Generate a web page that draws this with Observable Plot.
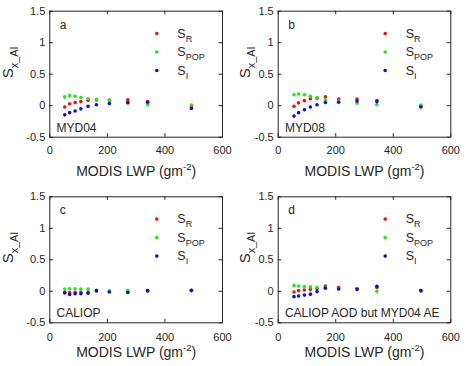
<!DOCTYPE html>
<html><head><meta charset="utf-8">
<script src="https://cdn.jsdelivr.net/npm/d3@7"></script>
<script src="https://cdn.jsdelivr.net/npm/@observablehq/plot@0.6"></script>
<style>
body{margin:0;background:#fff;}
#fig{position:relative;width:474px;height:366px;background:#fff;}
#fig svg{position:absolute;overflow:visible;}
</style></head><body><div id="fig"></div>
<script>
// ---- data ----
const lwpAC = [52, 69, 88, 108, 133, 162, 207, 271, 340, 492];
const lwpBD = [55, 71, 91, 112, 135, 164, 210, 274, 343, 496];

const a_SR   = [-0.02, 0.03, 0.05, 0.065, 0.085, 0.09, 0.09, 0.095, 0.065, -0.02];
const a_SPOP = [0.14, 0.16, 0.15, 0.13, 0.11, 0.10, 0.085, 0.04, 0.015, 0.01];
const a_SI   = [-0.145, -0.11, -0.085, -0.05, -0.01, 0.015, 0.035, 0.05, 0.055, -0.045];

const b_SR   = [-0.01, 0.045, 0.08, 0.11, 0.12, 0.14, 0.105, 0.105, 0.08, -0.01];
const b_SPOP = [0.175, 0.185, 0.175, 0.15, 0.125, 0.09, 0.075, 0.04, 0.015, 0.01];
const b_SI   = [-0.165, -0.11, -0.065, -0.02, 0.015, 0.05, 0.055, 0.075, 0.065, -0.02];

const c_SR   = [-0.015, -0.02, -0.015, -0.015, -0.01, 0.005, 0.0, -0.005, 0.005, 0.01];
const c_SPOP = [0.035, 0.04, 0.04, 0.035, 0.035, 0.015, 0.005, 0.01, 0.01, 0.01];
const c_SI   = [-0.025, -0.05, -0.04, -0.04, -0.03, 0.01, -0.01, -0.02, 0.01, 0.015];

const d_SR   = [-0.01, 0.01, 0.02, 0.03, 0.04, 0.085, 0.065, 0.045, 0.06, 0.01];
const d_SPOP = [0.09, 0.085, 0.075, 0.07, 0.065, 0.06, 0.045, 0.04, 0.0, 0.01];
const d_SI   = [-0.085, -0.075, -0.06, -0.045, -0.005, 0.05, 0.035, 0.03, 0.08, 0.01];

const seriesNames  = ["S_{R}", "S_{POP}", "S_{I}"];
const seriesColors = ["#ff0a0a", "#12f012", "#0a0ae6"];
const panelLetters = ["a", "b", "c", "d"];
const panelNotes   = ["MYD04", "MYD08", "CALIOP", "CALIOP AOD but MYD04 AE"];
const xTicks = [0, 200, 400, 600];
const xTickLabels = ["0", "200", "400", "600"];
const yTicks = [-0.5, 0, 0.5, 1, 1.5];
const yTickLabels = ["-0.5", "0", "0.5", "1", "1.5"];
const xLabel = "MODIS LWP (gm^{-2})";
const yLabel = "S_{x_AI}";

const panelData = [
  [lwpAC, a_SR, a_SPOP, a_SI],
  [lwpBD, b_SR, b_SPOP, b_SI],
  [lwpAC, c_SR, c_SPOP, c_SI],
  [lwpBD, d_SR, d_SPOP, d_SI]
];

// ---- layout ----
const W = 237, H = 183;
const layout = [
  {left: 0,   top: 0,   mL: 49.3, mR: 15,   mT: 10.7, mB: 46.3, xlabDy: 38.5, tickPad: 8.5, ylabDy: 4},
  {left: 237, top: 0,   mL: 40.7, mR: 23.7, mT: 10.7, mB: 46.3, xlabDy: 38.5, tickPad: 8.5, ylabDy: 4},
  {left: 0,   top: 183, mL: 49.3, mR: 15,   mT: 13.3, mB: 43.7, xlabDy: 34.5, tickPad: 10, ylabDy: 3.5},
  {left: 237, top: 183, mL: 40.7, mR: 23.7, mT: 13.3, mB: 43.7, xlabDy: 34.5, tickPad: 10, ylabDy: 3.5}
];

const FONT = "'Liberation Sans', Arial, Helvetica, sans-serif";
const INK = "#262626";

function makePanel(p) {
  const L = layout[p];
  const [lwp, ...series] = panelData[p];
  const pw = W - L.mL - L.mR, ph = H - L.mT - L.mB;
  const rows = [];
  series.forEach((vals, s) => vals.forEach((v, i) => rows.push({x: lwp[i], y: v, s})));
  const marks = [
    Plot.frame({stroke: INK, strokeWidth: 1}),
    // inward ticks on four sides
    Plot.tickX(xTicks, {x: d => d, stroke: INK, insetTop: ph - 3.5}),
    Plot.tickX(xTicks, {x: d => d, stroke: INK, insetBottom: ph - 3.5}),
    Plot.tickY(yTicks, {y: d => d, stroke: INK, insetRight: pw - 3.5}),
    Plot.tickY(yTicks, {y: d => d, stroke: INK, insetLeft: pw - 3.5}),
    Plot.axisX(xTicks, {anchor: "bottom", tickSize: 0, tickPadding: L.tickPad, fontSize: 11, fill: INK,
      tickFormat: d => xTickLabels[xTicks.indexOf(d)], label: null}),
    Plot.axisY(yTicks, {anchor: "left", tickSize: 0, tickPadding: 4.5, fontSize: 11, fill: INK,
      tickFormat: d => yTickLabels[yTicks.indexOf(d)], label: null}),
    Plot.dot(rows, {x: "x", y: "y", r: 1.8, fill: d => seriesColors[d.s], stroke: null}),
    Plot.text([panelLetters[p]], {frameAnchor: "top-left", dx: 10, dy: 17.6, lineAnchor: "bottom", textAnchor: "start", fontSize: 12, fill: INK}),
    Plot.text([panelNotes[p]], {frameAnchor: "bottom-left", dx: 6.7, dy: -5.7, lineAnchor: "bottom", textAnchor: "start", fontSize: 12, fill: INK}),
    Plot.text([xLabel], {frameAnchor: "bottom", dy: L.xlabDy, lineAnchor: "bottom", fontSize: 14, fill: INK}),
    Plot.text([yLabel], {frameAnchor: "left", dx: -(L.mL - 12.5), dy: L.ylabDy, rotate: -90, lineAnchor: "bottom", fontSize: 15, fill: INK})
  ];
  seriesNames.forEach((name, i) => {
    marks.push(Plot.dot([name], {frameAnchor: "top-left", dx: 107, dy: 22.3 + 18.5 * i, r: 1.8, fill: seriesColors[i], stroke: null}));
    marks.push(Plot.text([name], {frameAnchor: "top-left", dx: 127.5, dy: 22.3 + 18.5 * i, lineAnchor: "middle", textAnchor: "start", fontSize: 12.5, fill: INK}));
  });
  const svg = Plot.plot({
    width: W, height: H,
    marginLeft: L.mL, marginRight: L.mR, marginTop: L.mT, marginBottom: L.mB,
    x: {domain: [0, 600]},
    y: {domain: [-0.5, 1.5]},
    style: {fontFamily: FONT, background: "transparent", color: INK},
    marks
  });
  svg.style.left = L.left + "px";
  svg.style.top = L.top + "px";
  return svg;
}

// turn "_{...}" / "^{...}" markup into sub/superscript tspans
function richText(svg) {
  d3.select(svg).selectAll("text").each(function () {
    const t = this.textContent;
    if (!/[_^]\{/.test(t)) return;
    const fs = parseFloat(getComputedStyle(this).fontSize) || 12;
    const parts = [];
    const re = /([_^])\{([^}]*)\}/g;
    let last = 0, m;
    while ((m = re.exec(t))) {
      if (m.index > last) parts.push({txt: t.slice(last, m.index), k: ""});
      parts.push({txt: m[2], k: m[1]});
      last = re.lastIndex;
    }
    if (last < t.length) parts.push({txt: t.slice(last), k: ""});
    this.textContent = "";
    let cur = 0;
    for (const part of parts) {
      const ts = d3.select(this).append("tspan").text(part.txt);
      let target = 0;
      if (part.k === "_") { target = 0.32 * fs; ts.attr("font-size", (0.72 * fs) + "px"); }
      if (part.k === "^") { target = -0.42 * fs; ts.attr("font-size", (0.68 * fs) + "px"); }
      if (target !== cur) ts.attr("dy", (target - cur) + "px");
      cur = target;
    }
  });
}

const fig = document.getElementById("fig");
for (let p = 0; p < 4; p++) {
  const svg = makePanel(p);
  fig.appendChild(svg);
  richText(svg);
}
</script></body></html>
